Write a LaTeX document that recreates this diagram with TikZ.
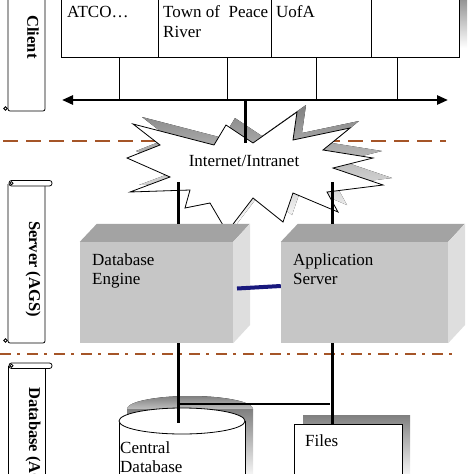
\documentclass[tikz,border=0pt]{standalone}
\usepackage{fontspec}
\setmainfont{Liberation Serif}
\usetikzlibrary{arrows.meta,calc}
\definecolor{sepline}{RGB}{165,85,40}
\definecolor{navyline}{RGB}{25,25,125}
\definecolor{boxfront}{RGB}{198,198,198}
\definecolor{boxtop}{RGB}{163,163,163}
\definecolor{boxside}{RGB}{222,222,222}
\definecolor{shade}{RGB}{130,130,130}
\begin{document}
\begin{tikzpicture}[x=1pt,y=-1pt,
  lbl/.style={font=\fontsize{17}{19}\selectfont, inner sep=0pt},
  sidelbl/.style={font=\fontsize{16.5}{19}\selectfont\bfseries, inner sep=0pt, rotate=-90},
  cbox/.style={draw, line width=0.8pt, minimum height=80pt, inner sep=0pt, fill=white},
  wire/.style={line width=3pt},
  thinline/.style={line width=0.8pt},
  frontface/.style={fill=boxfront, minimum height=101pt, inner sep=0pt},
  cloudshape/.style={insert path={(133,124) -- (214,145) -- (226,125) -- (253,143) -- (297,112) -- (293,140) -- (350,128) -- (323,150) -- (373,158) -- (333,168) -- (383,185) -- (327,192) -- (338,212) -- (293,193) -- (283,222) -- (253,198) -- (227,232) -- (210,203) -- (185,208) -- (190,190) -- (130,192) -- (170,177) -- (127,158) -- (160,145) -- cycle}},
  busarrow/.style={{Triangle[length=11pt,width=9pt]}-{Triangle[length=11pt,width=9pt]}}
]
\useasboundingbox (0,0) rectangle (474,474);
\clip (0,0) rectangle (474,474);

% ---------- side scrolls ----------
% Client
\draw[thinline, rounded corners=2pt] (45,-5) -- (45,111) -- (8,111) -- (8,-5);
\draw[thinline] (5.5,108.5) circle (1.8);
\node[sidelbl] (lclient) at (33,37) {Client};
% Server
\draw[thinline, rounded corners=2pt] (45,184) -- (45,343) -- (8,343) -- (8,184);
\draw[thinline, fill=white, rounded corners=2.5pt] (9,180.5) rectangle (52,186);
\draw[thinline] (11.5,183.2) circle (1.6);
\draw[thinline] (5.5,340.5) circle (1.8);
\node[sidelbl] (lserver) at (33,269) {Server (AGS)};
% Database
\draw[thinline] (45,366) -- (45,480);
\draw[thinline] (8,366) -- (8,480);
\draw[thinline, fill=white, rounded corners=2.5pt] (9,363) rectangle (52,368.5);
\draw[thinline] (11.5,365.7) circle (1.6);
\node[sidelbl, anchor=west] (ldb) at (33,387) {Database (AGS)};

% ---------- separators ----------
\draw[sepline, line width=2.5pt, dash pattern=on 15pt off 8pt] (3,141) -- (446,141);
\draw[sepline, line width=2.5pt, dash pattern=on 11pt off 6pt on 3pt off 7pt] (0,354) -- (455,354);

% ---------- client boxes ----------
\fill[shade] (460,-10) rectangle (467,48);
\node[cbox, minimum width=97pt] (c1) at (109.5,17) {};
\node[cbox, minimum width=113pt] (c2) at (214.5,17) {};
\node[cbox, minimum width=100pt] (c3) at (321,17) {};
\node[cbox, minimum width=88pt] (c4) at (415,17) {};
\node[lbl, anchor=base west] (t1) at (67,17) {ATCO…};
\node[lbl, anchor=base west] (t2a) at (163,17) {Town of\ \ Peace};
\node[lbl, anchor=base west] (t2b) at (163,37) {River};
\node[lbl, anchor=base west] (t3) at (276,17) {UofA};

% bus
\coordinate (busL) at (62,100);
\coordinate (busR) at (448,100);
\coordinate (b1) at (119,100);
\coordinate (b2) at (227,100);
\coordinate (b3) at (316,100);
\coordinate (b4) at (397,100);
\coordinate (busC) at (245,100);
\draw[thinline] (b1) -- (b1 |- c1.south);
\draw[thinline] (b2) -- (b2 |- c2.south);
\draw[thinline] (b3) -- (b3 |- c3.south);
\draw[thinline] (b4) -- (b4 |- c4.south);
\draw[line width=2.5pt, busarrow] (busL) -- (busR);

% ---------- cloud ----------
\fill[shade, shift={(9,-7)}, cloudshape];
\filldraw[fill=white, draw=black, line width=0.8pt, line join=miter, cloudshape];
\node[lbl] (net) at (244,161) {Internet/Intranet};
\coordinate (netTop) at (245,143);
\coordinate (netL) at (178,182);
\coordinate (netR) at (332,182);
\draw[wire] (busC) -- (netTop);

% ---------- server boxes ----------
\node[frontface, minimum width=153pt] (dbe) at (156.5,292.5) {};
\fill[boxtop] (dbe.north west) -- ++(17,-18) -- ++(153,0) -- (dbe.north east) -- cycle;
\fill[boxside] (dbe.north east) -- ++(17,-18) -- ++(0,101) -- (dbe.south east) -- cycle;
\node[frontface, minimum width=167pt] (app) at (364.5,292.5) {};
\fill[boxtop] (app.north west) -- ++(17,-18) -- ++(167,0) -- (app.north east) -- cycle;
\fill[boxside] (app.north east) -- ++(17,-18) -- ++(0,101) -- (app.south east) -- cycle;
\node[lbl, anchor=base west] (dbe1) at (92,265) {Database};
\node[lbl, anchor=base west] (dbe2) at (92,284) {Engine};
\node[lbl, anchor=base west] (app1) at (293,265) {Application};
\node[lbl, anchor=base west] (app2) at (293,284) {Server};
\coordinate (dbeTop) at (178,224);
\coordinate (appTop) at (332,224);
\draw[wire] (netL) -- (dbeTop);
\draw[wire] (netR) -- (appTop);
\coordinate (blue1) at (237,288.5);
\draw[navyline, line width=4pt] (blue1) -- ($(app.west)+(0,-6.5)$);

% ---------- database tier ----------
% cylinder
\fill[shade] (190,409) ellipse [x radius=63, y radius=13];
\fill[shade] (127,409) rectangle (253,480);
\fill[white] (119,421) rectangle (245,480);
\draw[thinline] (119,421) -- (119,480);
\draw[thinline] (245,421) -- (245,480);
\filldraw[fill=white, thinline] (182,421) ellipse [x radius=63, y radius=13];
\node[lbl, anchor=base west] (cdb1) at (120,453) {Central};
\node[lbl, anchor=base west] (cdb2) at (120,472) {Database};
% files
\fill[shade] (303,415) rectangle (410,480);
\node[draw, thinline, fill=white, minimum width=108pt, minimum height=60pt, anchor=north west, inner sep=0pt] (files) at (294,424) {};
\node[lbl, anchor=base west] (ftxt) at (305,446) {Files};
% lines
\coordinate (dbeBot) at (178,343);
\coordinate (appBot) at (332,343);
\coordinate (cylTop) at (178,423);
\coordinate (joinL) at (178,404);
\coordinate (joinR) at (330,404);
\draw[wire] (dbeBot) -- (cylTop);
\draw[line width=2.5pt] (joinL) -- (joinR);
\draw[wire] (appBot) -- (appBot |- files.north);
\end{tikzpicture}
\end{document}
